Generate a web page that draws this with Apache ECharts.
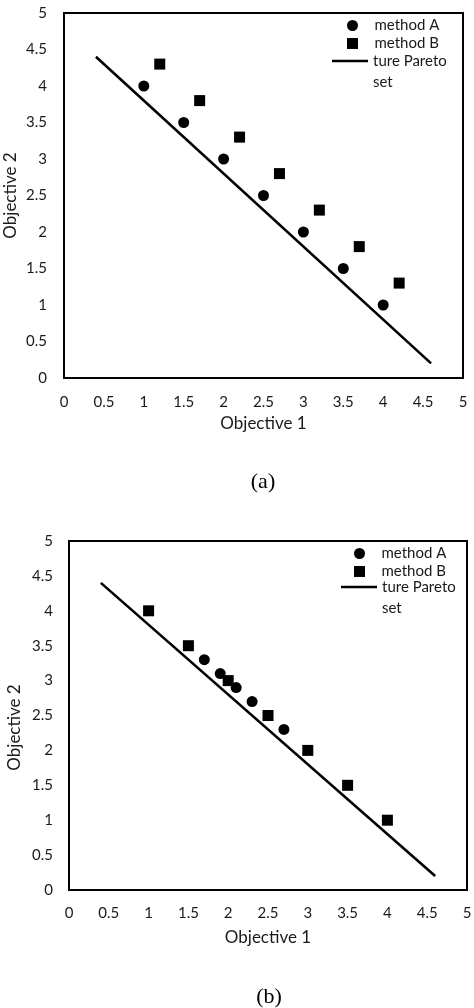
<!DOCTYPE html>
<html><head><meta charset="utf-8">
<script src="https://cdn.jsdelivr.net/npm/echarts@6/dist/echarts.min.js"></script>
<style>html,body{margin:0;padding:0;background:#fff}#c{width:474px;height:1008px}</style>
</head><body><div id="c"></div>
<script>
// ---- data ----
const axisMin = 0, axisMax = 5, axisStep = 0.5;
const nameA = 'method A', nameB = 'method B', nameP = 'ture Pareto set';
const xName = 'Objective 1', yName = 'Objective 2';
const panelLabels = ['(a)', '(b)'];
// panel (a)
const a_methodA = [[1,4],[1.5,3.5],[2,3],[2.5,2.5],[3,2],[3.5,1.5],[4,1]];
const a_methodB = [[1.2,4.3],[1.7,3.8],[2.2,3.3],[2.7,2.8],[3.2,2.3],[3.7,1.8],[4.2,1.3]];
const a_pareto  = [[0.4,4.4],[4.6,0.2]];
// panel (b)
const b_methodA = [[1.7,3.3],[1.9,3.1],[2.1,2.9],[2.3,2.7],[2.7,2.3]];
const b_methodB = [[1,4],[1.5,3.5],[2,3],[2.5,2.5],[3,2],[3.5,1.5],[4,1]];
const b_pareto  = [[0.4,4.4],[4.6,0.2]];

// ---- chart ----
const FONT = 'Lato';
const TXT = '#1a1a1a';
const chart = echarts.init(document.getElementById('c'));
function xAx(gi, nameGap, margin){
  return {type:'value', gridIndex:gi, min:axisMin, max:axisMax, interval:axisStep,
    name:xName, nameLocation:'middle', nameGap:nameGap, nameMoveOverlap:false,
    nameTextStyle:{fontFamily:FONT, fontSize:17, color:TXT},
    axisLine:{show:false}, axisTick:{show:false}, splitLine:{show:false},
    axisLabel:{fontFamily:FONT, fontSize:15, color:TXT, margin:margin, showMinLabel:true, showMaxLabel:true}};
}
function yAx(gi, nameGap, margin, pad){
  return {type:'value', gridIndex:gi, min:axisMin, max:axisMax, interval:axisStep,
    name:yName, nameLocation:'middle', nameGap:nameGap, nameMoveOverlap:false,
    nameTextStyle:{fontFamily:FONT, fontSize:17, color:TXT, padding:pad},
    axisLine:{show:false}, axisTick:{show:false}, splitLine:{show:false},
    axisLabel:{fontFamily:FONT, fontSize:15, color:TXT, margin:margin, showMinLabel:true, showMaxLabel:true}};
}
function legendItem(name, icon, left, top, w, extra){
  return Object.assign({
    data:[{name:name, icon:icon}], left:left, top:top, padding:0,
    itemWidth:w, itemHeight:11, orient:'vertical', selectedMode:false,
    textStyle:{fontFamily:FONT, fontSize:15, color:TXT, lineHeight:14}
  }, extra||{});
}
const sq = 'path://M0 0H10V10H0Z';
const lineIcon = 'path://M0 0H36V2.6H0Z';
function paretoLegend(left, top){
  return legendItem(nameP, lineIcon, left, top, 36, {
    formatter:function(){return ' \nture Pareto\nset';},
    textStyle:{fontFamily:FONT, fontSize:15, color:TXT, lineHeight:21}
  });
}
function series(gi, dA, dB, dP){
  return [
    {type:'scatter', name:nameA, xAxisIndex:gi, yAxisIndex:gi, data:dA, symbol:'circle', symbolSize:11, itemStyle:{color:'#000', opacity:1}},
    {type:'scatter', name:nameB, xAxisIndex:gi, yAxisIndex:gi, data:dB, symbol:'rect', symbolSize:11, itemStyle:{color:'#000', opacity:1}},
    {type:'line', name:nameP, xAxisIndex:gi, yAxisIndex:gi, data:dP, symbol:'none', lineStyle:{color:'#000', width:2.6}, itemStyle:{color:'#000'}}
  ];
}
chart.setOption({
  animation:false,
  backgroundColor:'#fff',
  grid:[
    {left:64, top:13, width:399, height:365, show:true, borderColor:'#000', borderWidth:2, backgroundColor:'transparent', outerBoundsMode:'none', containLabel:false},
    {left:69, top:541, width:398, height:349, show:true, borderColor:'#000', borderWidth:2, backgroundColor:'transparent', outerBoundsMode:'none', containLabel:false}
  ],
  xAxis:[xAx(0, 37, 17), xAx(1, 39, 16)],
  yAxis:[yAx(0, 45, 17, [0,0,0,0]), yAx(1, 46, 16, [0,24,0,0])],
  legend:[
    legendItem(nameA, 'circle', 347, 18, 34),
    legendItem(nameB, sq, 347, 36, 34),
    paretoLegend(332, 29.5),
    legendItem(nameA, 'circle', 354, 546, 34),
    legendItem(nameB, sq, 354, 564, 34),
    paretoLegend(341, 555.5)
  ],
  series:[].concat(series(0, a_methodA, a_methodB, a_pareto), series(1, b_methodA, b_methodB, b_pareto)),
  graphic:[
    {type:'text', x:263, y:482, style:{text:panelLabels[0], fontFamily:'Liberation Serif', fontSize:22, fill:'#000', align:'center', verticalAlign:'middle'}},
    {type:'text', x:269, y:997, style:{text:panelLabels[1], fontFamily:'Liberation Serif', fontSize:22, fill:'#000', align:'center', verticalAlign:'middle'}}
  ]
});
</script></body></html>
